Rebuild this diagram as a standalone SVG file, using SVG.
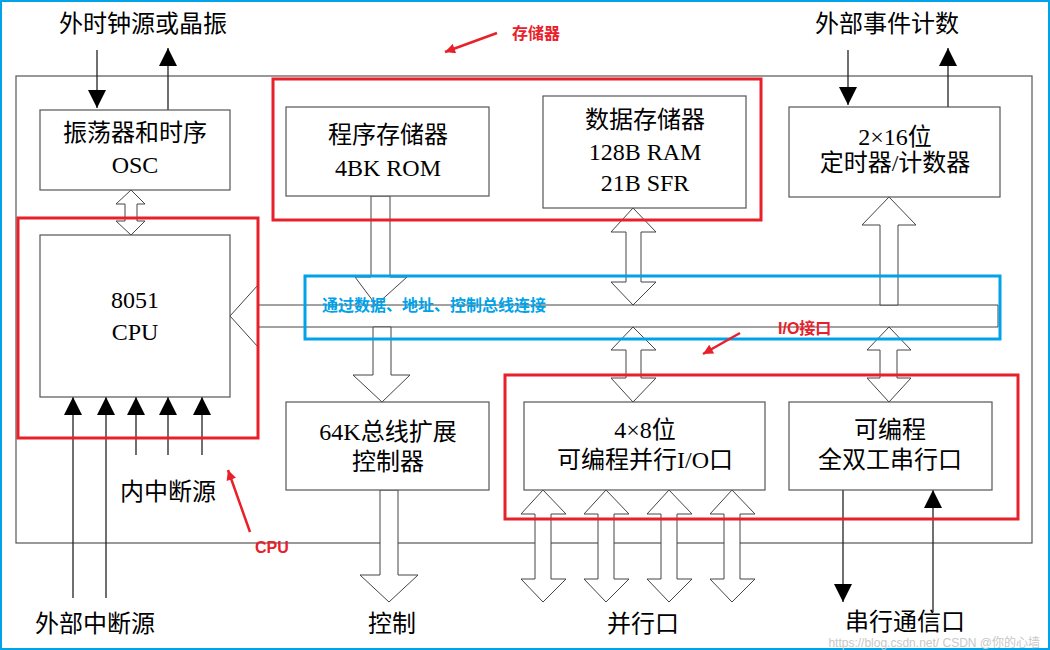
<svg xmlns="http://www.w3.org/2000/svg" width="1050" height="650" viewBox="0 0 1050 650">
<defs>
<style>
.bx{fill:#fff;stroke:#555;stroke-width:1.2}
.t{font-family:"Liberation Serif","Noto Sans CJK SC",serif;font-size:24px;fill:#000;text-anchor:middle}
.ha{fill:#fff;stroke:#444;stroke-width:1}
.ln{stroke:#222;stroke-width:1.3;fill:none}
.red{fill:none;stroke:#e8202a;stroke-width:3}
.rl{font-family:"Liberation Sans","Noto Sans CJK SC",sans-serif;font-size:16px;font-weight:bold;fill:#e8202a}
</style>
<marker id="fa" viewBox="0 0 10 10" refX="10" refY="5" markerWidth="18" markerHeight="26" markerUnits="userSpaceOnUse" orient="auto"><path d="M0,0L10,5L0,10z" fill="#000"/></marker>
<marker id="ra" viewBox="0 0 10 10" refX="10" refY="5" markerWidth="12" markerHeight="10" markerUnits="userSpaceOnUse" orient="auto"><path d="M0,0L10,5L0,10z" fill="#e8202a"/></marker>
</defs>
<rect width="1050" height="650" fill="#fff"/>
<rect x="1" y="1" width="1048" height="648" fill="none" stroke="#00a2e8" stroke-width="2"/>
<rect x="16" y="76" width="1016" height="467" fill="none" stroke="#555" stroke-width="1.2"/>

<g id="connectors">
<path class="ha" d="M230,316L258,285V305H998V327H258V347Z"/>
<path class="ha" d="M371,196V277H355L376,305L407,277H390V196Z"/>
<path class="ha" d="M373,327V375H353L382,402L410,375H391V327Z"/>
<path class="ha" d="M633,208L656,232H641V282H656L633,305L611,282H626V232H611Z"/>
<path class="ha" d="M633,327L656,350H641V378H656L633,402L611,378H626V350H611Z"/>
<path class="ha" d="M889,197L916,225H898V305H880V225H862Z"/>
<path class="ha" d="M889,327L911,350H897V378H911L889,402L867,378H880V350H867Z"/>
<path class="ha" d="M131,190L145,204H137V221H145L131,235L116,221H125V204H116Z"/>
<path class="ha" d="M543,490L566,514H551V579H566L543,602L521,579H535V514H521Z"/>
<path class="ha" d="M606,490L629,514H614V579H629L606,602L584,579H598V514H584Z"/>
<path class="ha" d="M669,490L692,514H677V579H692L669,602L647,579H661V514H647Z"/>
<path class="ha" d="M732,490L755,514H740V579H755L732,602L710,579H724V514H710Z"/>
<path class="ha" d="M380,490V575H360L389,602L418,575H398V490Z"/>
<line class="ln" x1="97" y1="50" x2="97" y2="108" marker-end="url(#fa)"/>
<line class="ln" x1="168" y1="110" x2="168" y2="48" marker-end="url(#fa)"/>
<line class="ln" x1="848" y1="50" x2="848" y2="105" marker-end="url(#fa)"/>
<line class="ln" x1="948" y1="107" x2="948" y2="48" marker-end="url(#fa)"/>
<line class="ln" x1="843" y1="490" x2="843" y2="602" marker-end="url(#fa)"/>
<line class="ln" x1="933" y1="612" x2="933" y2="490" marker-end="url(#fa)"/>
<line class="ln" x1="73" y1="598" x2="73" y2="397" marker-end="url(#fa)"/>
<line class="ln" x1="106" y1="598" x2="106" y2="397" marker-end="url(#fa)"/>
<line class="ln" x1="136" y1="455" x2="136" y2="397" marker-end="url(#fa)"/>
<line class="ln" x1="168" y1="455" x2="168" y2="397" marker-end="url(#fa)"/>
<line class="ln" x1="202" y1="455" x2="202" y2="397" marker-end="url(#fa)"/>
</g>

<g id="osc"><rect class="bx" x="40" y="110" width="190" height="80"/><text class="t" x="135" y="141">振荡器和时序</text><text class="t" x="135" y="173">OSC</text></g>
<g id="cpu"><rect class="bx" x="40" y="235" width="190" height="162"/><text class="t" x="135" y="308">8051</text><text class="t" x="135" y="340">CPU</text></g>
<g id="rom"><rect class="bx" x="286" y="107" width="203" height="89"/><text class="t" x="388" y="143">程序存储器</text><text class="t" x="388" y="176">4BK ROM</text></g>
<g id="ram"><rect class="bx" x="543" y="96" width="203" height="112"/><text class="t" x="645" y="128">数据存储器</text><text class="t" x="645" y="160">128B RAM</text><text class="t" x="645" y="191">21B SFR</text></g>
<g id="timer"><rect class="bx" x="789" y="107" width="211" height="90"/><text class="t" x="895" y="145">2×16位</text><text class="t" x="895" y="171">定时器/计数器</text></g>
<g id="busctl"><rect class="bx" x="286" y="402" width="203" height="88"/><text class="t" x="388" y="440">64K总线扩展</text><text class="t" x="388" y="470">控制器</text></g>
<g id="pio"><rect class="bx" x="524" y="402" width="241" height="88"/><text class="t" x="645" y="438">4×8位</text><text class="t" x="645" y="468">可编程并行I/O口</text></g>
<g id="sio"><rect class="bx" x="789" y="402" width="203" height="88"/><text class="t" x="890" y="438">可编程</text><text class="t" x="890" y="468">全双工串行口</text></g>

<g id="labels">
<text class="t" x="143" y="32">外时钟源或晶振</text>
<text class="t" x="887" y="32">外部事件计数</text>
<text class="t" x="168" y="500">内中断源</text>
<text class="t" x="95" y="632">外部中断源</text>
<text class="t" x="392" y="632">控制</text>
<text class="t" x="643" y="632">并行口</text>
<text class="t" x="905" y="630">串行通信口</text>
<text x="1040" y="647" text-anchor="end" font-family="Liberation Sans,Noto Sans CJK SC,sans-serif" font-size="12" fill="#c8c8c8">https://blog.csdn.net/   CSDN @你的心墙</text>
</g>

<g id="highlights">
<rect class="red" x="273" y="79" width="488" height="141"/>
<rect class="red" x="18" y="218" width="240" height="220"/>
<rect class="red" x="505" y="375" width="513" height="144"/>
<rect x="305" y="276" width="695" height="63" fill="none" stroke="#00a2e8" stroke-width="3"/>
<text x="322" y="311" font-family="Liberation Sans,Noto Sans CJK SC,sans-serif" font-size="16" font-weight="bold" fill="#00a2e8">通过数据、地址、控制总线连接</text>
<text class="rl" x="512" y="39">存储器</text>
<line x1="497" y1="33" x2="445" y2="52" stroke="#e8202a" stroke-width="2.5" marker-end="url(#ra)"/>
<text class="rl" x="778" y="334">I/O接口</text>
<line x1="740" y1="333" x2="703" y2="354" stroke="#e8202a" stroke-width="2.5" marker-end="url(#ra)"/>
<text class="rl" x="255" y="553">CPU</text>
<line x1="250" y1="532" x2="228" y2="470" stroke="#e8202a" stroke-width="2.5" marker-end="url(#ra)"/>
</g>
</svg>
